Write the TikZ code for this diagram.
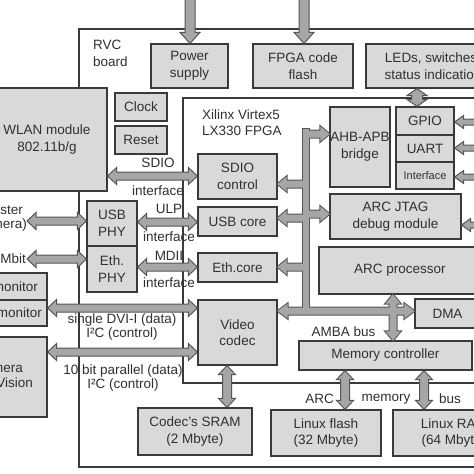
\documentclass[tikz,border=0pt]{standalone}
\usepackage{fontspec}
\setmainfont{Liberation Sans}
\usetikzlibrary{calc}
\definecolor{boxfill}{HTML}{D9D9D7}
\definecolor{boxline}{HTML}{3A3A3A}
\definecolor{arrfill}{HTML}{A6A6A6}
\definecolor{arrline}{HTML}{555555}
\definecolor{txt}{HTML}{303030}
\tikzset{
 blk/.style={draw=boxline, fill=boxfill, line width=1.2pt, text=txt, align=center, inner sep=0pt, font=\fontsize{13.5}{16.5}\selectfont},
 lbl/.style={text=txt, align=center, inner sep=0pt, font=\fontsize{13.5}{14}\selectfont},
 arr/.style={draw=arrline, fill=arrfill, line width=1pt},
 busout/.style={draw=arrline, fill=arrfill, line width=2pt},
 busfill/.style={fill=arrfill},
 frame/.style={draw=boxline, line width=1.4pt},
}
\def\arsw{4pt}\def\arhw{8.5pt}\def\arhl{9pt}
\newcommand\sethead[3]{\def\arsw{#1}\def\arhw{#2}\def\arhl{#3}}
% single-headed horizontal arrow: style, from, to, y
\newcommand\harr[4]{%
 \path[#1] let \p1=(#2), \p2=(#3), \p3=(0,#4), \n1={sign(\x2-\x1)} in
 (\x1,{\y3+\arsw}) -- ({\x2-(\n1)*\arhl},{\y3+\arsw}) -- ({\x2-(\n1)*\arhl},{\y3+\arhw}) -- (\x2,\y3)
 -- ({\x2-(\n1)*\arhl},{\y3-\arhw}) -- ({\x2-(\n1)*\arhl},{\y3-\arsw}) -- (\x1,{\y3-\arsw}) -- cycle;}
% double-headed horizontal arrow
\newcommand\hdarr[4]{%
 \path[#1] let \p1=(#2), \p2=(#3), \p3=(0,#4), \n1={sign(\x2-\x1)} in
 (\x1,\y3) -- ({\x1+(\n1)*\arhl},{\y3+\arhw}) -- ({\x1+(\n1)*\arhl},{\y3+\arsw}) -- ({\x2-(\n1)*\arhl},{\y3+\arsw})
 -- ({\x2-(\n1)*\arhl},{\y3+\arhw}) -- (\x2,\y3) -- ({\x2-(\n1)*\arhl},{\y3-\arhw}) -- ({\x2-(\n1)*\arhl},{\y3-\arsw})
 -- ({\x1+(\n1)*\arhl},{\y3-\arsw}) -- ({\x1+(\n1)*\arhl},{\y3-\arhw}) -- cycle;}
% single-headed vertical arrow: style, from, to, x
\newcommand\varr[4]{%
 \path[#1] let \p1=(#2), \p2=(#3), \p3=(#4,0), \n1={sign(\y2-\y1)} in
 ({\x3+\arsw},\y1) -- ({\x3+\arsw},{\y2-(\n1)*\arhl}) -- ({\x3+\arhw},{\y2-(\n1)*\arhl}) -- (\x3,\y2)
 -- ({\x3-\arhw},{\y2-(\n1)*\arhl}) -- ({\x3-\arsw},{\y2-(\n1)*\arhl}) -- ({\x3-\arsw},\y1) -- cycle;}
% double-headed vertical arrow
\newcommand\vdarr[4]{%
 \path[#1] let \p1=(#2), \p2=(#3), \p3=(#4,0), \n1={sign(\y2-\y1)} in
 (\x3,\y1) -- ({\x3+\arhw},{\y1+(\n1)*\arhl}) -- ({\x3+\arsw},{\y1+(\n1)*\arhl}) -- ({\x3+\arsw},{\y2-(\n1)*\arhl})
 -- ({\x3+\arhw},{\y2-(\n1)*\arhl}) -- (\x3,\y2) -- ({\x3-\arhw},{\y2-(\n1)*\arhl}) -- ({\x3-\arsw},{\y2-(\n1)*\arhl})
 -- ({\x3-\arsw},{\y1+(\n1)*\arhl}) -- ({\x3-\arhw},{\y1+(\n1)*\arhl}) -- cycle;}
% box from corners
\newcommand\bx[6][]{%
 \node[blk, minimum width={#5pt-#3pt}, minimum height={#6pt-#4pt}, #1] at ({(#3+#5)/2},{(#4+#6)/2})}
\newcommand\busgroup[1]{%
 \path[#1] (303,129) rectangle (309,312);
 \sethead{3.5pt}{7.5pt}{9pt}%
 \harr{#1}{busA}{ahb.west}{134}%
 \harr{#1}{busA}{jtag.west}{214}%
 \harr{#1}{busA}{sdio.east}{184}%
 \harr{#1}{busA}{usbc.east}{218}%
 \harr{#1}{busA}{ethc.east}{267}%
 \sethead{3.5pt}{7.5pt}{10pt}%
 \hdarr{#1}{vid.east}{dma.west}{311}%
 \sethead{3.5pt}{7.5pt}{9pt}%
 \vdarr{#1}{arcp.south}{mem.north}{393}%
}
\begin{document}
\begin{tikzpicture}[x=1pt,y=-1pt]
\useasboundingbox (0,0) rectangle (474,474);
\clip (0,0) rectangle (474,474);
\fill[white] (0,0) rectangle (474,474);
% frames
\draw[frame] (79,29) rectangle (520,467);
\draw[frame] (183,98) rectangle (520,383);
\node[lbl, anchor=west, align=left, font=\fontsize{13.5}{17}\selectfont] (rvc) at (93,53.5) {RVC\\board};
\node[lbl, anchor=west, align=left, font=\fontsize{13.5}{16}\selectfont] (xil) at (202,123) {Xilinx Virtex5\\LX330 FPGA};
% boxes
\bx{ps}{151}{44}{228}{88} (ps) {Power\\supply};
\bx{fcf}{253}{44}{353}{88} (fcf) {FPGA code\\flash};
\bx{leds}{366}{44}{500}{88} (leds) {LEDs, switches,\\status indication};
\bx{clock}{115}{93}{167}{121} (clock) {Clock};
\bx{reset}{115}{126}{167}{154} (reset) {Reset};
\bx{wlan}{-13}{88}{107}{191} (wlan) {WLAN module\\802.11b/g};
\bx{ahb}{330}{107}{390}{187} (ahb) {AHB-APB\\bridge};
\bx{gpio}{396}{107}{454}{135} (gpio) {GPIO};
\bx{uart}{396}{135}{454}{162} (uart) {UART};
\bx[font=\fontsize{11}{13}\selectfont]{intf}{396}{162}{454}{189} (intf) {Interface};
\bx{jtag}{330}{194}{461}{239} (jtag) {ARC JTAG\\debug module};
\bx{arcp}{319}{247}{481}{294} (arcp) {ARC processor};
\bx{dma}{415}{299}{480}{328} (dma) {DMA};
\bx{mem}{299}{341}{472}{370} (mem) {Memory controller};
\bx{sdio}{198}{154}{277}{199} (sdio) {SDIO\\control};
\bx{usbc}{198}{207}{277}{236} (usbc) {USB core};
\bx{ethc}{198}{253}{277}{282} (ethc) {Eth.core};
\bx{vid}{198}{300}{277}{365} (vid) {Video\\codec};
\bx{usbphy}{87}{201}{137}{246} (usbphy) {USB\\PHY};
\bx{ethphy}{87}{246}{137}{292} (ethphy) {Eth.\\PHY};
\bx{mon1}{-40}{273}{47}{300} (mon1) {};
\bx{mon2}{-40}{300}{47}{326} (mon2) {};
\bx{cam}{-40}{337}{47}{417} (cam) {};
\bx{sram}{138}{408}{252}{455} (sram) {Codec's SRAM\\(2 Mbyte)};
\bx{flash}{271}{410}{381}{456} (flash) {Linux flash\\(32 Mbyte)};
\bx{ram}{393}{410}{515}{456} (ram) {Linux RAM\\(64 Mbyte)};
% clipped outside texts
\node[lbl, anchor=east] (mon1t) at (38,286.5) {monitor};
\node[lbl, anchor=east] (mon2t) at (42,313) {monitor};
\node[lbl, anchor=east] (camt1) at (23,368) {Camera};
\node[lbl, anchor=east] (camt2) at (33,383) {Vision};
\node[lbl, anchor=east] (ust1) at (23,210) {master};
\node[lbl, anchor=east] (ust2) at (27,225) {(camera)};
\node[lbl, anchor=east] (mbit) at (26,259) {100 Mbit};
% coordinates for free ends
\coordinate (topL) at (190,-10);
\coordinate (topR) at (304,-10);
\coordinate (rin) at (490,0);
\coordinate (lin) at (27,0);
\coordinate (busA) at (306,0);
% arrows
\sethead{5pt}{10pt}{11pt}
\varr{arr}{topL}{ps.north}{190}
\varr{arr}{topR}{fcf.north}{304}
\sethead{5.5pt}{10pt}{7pt}
\vdarr{arr}{leds.south}{gpio.north}{417}
\sethead{3pt}{6.5pt}{9pt}
\harr{arr}{rin}{gpio.east}{122}
\harr{arr}{rin}{uart.east}{148}
\harr{arr}{rin}{intf.east}{177}
\harr{arr}{rin}{jtag.east}{225}
\sethead{4pt}{8.5pt}{9pt}
\hdarr{arr}{wlan.east}{sdio.west}{176}
\hdarr{arr}{usbphy.east}{usbc.west}{222}
\hdarr{arr}{ethphy.east}{ethc.west}{267}
\hdarr{arr}{lin}{usbphy.west}{221}
\hdarr{arr}{lin}{ethphy.west}{259}
\hdarr{arr}{mon2.east}{vid.west}{308}
\hdarr{arr}{cam.east}{vid.west}{352}
\sethead{4.5pt}{8.5pt}{9pt}
\vdarr{arr}{vid.south}{sram.north}{227}
\vdarr{arr}{mem.south}{flash.north}{345}
\vdarr{arr}{mem.south}{ram.north}{424}
% bus
\busgroup{busout}
\busgroup{busfill}
% labels
\node[lbl] (l1) at (158,163) {SDIO};
\node[lbl] (l2) at (158,191) {interface};
\node[lbl] (l3) at (169,209) {ULP};
\node[lbl] (l4) at (169,237) {interface};
\node[lbl] (l5) at (169,256) {MDII};
\node[lbl] (l6) at (169,283) {interface};
\node[lbl] (l7) at (122,327.5) {single DVI-I (data)\\I²C (control)};
\node[lbl] (l8) at (123,378) {10 bit parallel (data)\\I²C (control)};
\node[lbl] (l9) at (343.5,332) {AMBA bus};
\node[lbl] (l10) at (319.5,399) {ARC};
\node[lbl] (l11) at (386,399) {memory};
\node[lbl] (l12) at (450,399) {bus};
\end{tikzpicture}
\end{document}
